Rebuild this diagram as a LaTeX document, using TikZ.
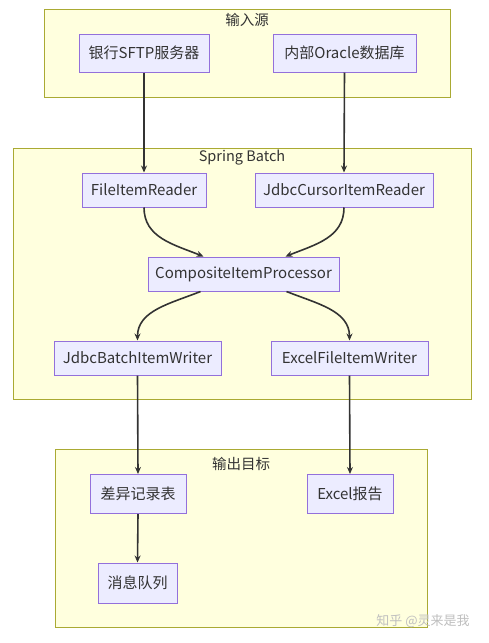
\documentclass[tikz,border=0pt]{standalone}
\usepackage{fontspec}
\setmainfont{Noto Sans CJK SC}
\usetikzlibrary{arrows.meta}
\definecolor{grpfill}{HTML}{FFFFDE}
\definecolor{grpdraw}{HTML}{AAAA33}
\definecolor{nodefill}{HTML}{ECECFF}
\definecolor{nodedraw}{HTML}{9370DB}
\definecolor{txt}{HTML}{333333}
\begin{document}
\begin{tikzpicture}[x=1pt,y=-1pt,
  grp/.style={draw=grpdraw,fill=grpfill,line width=1pt},
  box/.style={draw=nodedraw,fill=nodefill,line width=1pt,text=txt,font=\fontsize{15}{17}\selectfont,inner sep=0pt,anchor=center},
  gtitle/.style={text=txt,font=\fontsize{14.5}{16}\selectfont},
  arr/.style={draw=txt,line width=1.6pt,-{Stealth[length=7pt,width=6pt]}}]
\useasboundingbox (0,0) rectangle (488,643);
\fill[white] (0,0) rectangle (488,643);
% groups
\draw[grp] (44,9) rectangle (450,97);
\node[gtitle] (g1) at (247,20) {输入源};
\draw[grp] (13,148) rectangle (471,399);
\node[gtitle] (g2) at (242,158) {Spring Batch};
\draw[grp] (55,449) rectangle (427,627);
\node[gtitle] (g3) at (241,464) {输出目标};
% nodes
\node[box,minimum width=130pt,minimum height=38pt] (sftp) at (144,53) {银行SFTP服务器};
\node[box,minimum width=143pt,minimum height=38pt] (ora) at (344.5,53) {内部Oracle数据库};
\node[box,minimum width=124pt,minimum height=34pt] (fir) at (144,190) {FileItemReader};
\node[box,minimum width=178pt,minimum height=34pt] (jcr) at (344,190) {JdbcCursorItemReader};
\node[box,minimum width=191pt,minimum height=34pt] (cip) at (243.5,274) {CompositeItemProcessor};
\node[box,minimum width=167pt,minimum height=34pt] (jbw) at (137.5,358) {JdbcBatchItemWriter};
\node[box,minimum width=157pt,minimum height=34pt] (efw) at (349.5,358) {ExcelFileItemWriter};
\node[box,minimum width=96pt,minimum height=39pt] (diff) at (138,494) {差异记录表};
\node[box,minimum width=86pt,minimum height=39pt] (xls) at (350,494) {Excel报告};
\node[box,minimum width=79pt,minimum height=40pt] (mq) at (137.5,583) {消息队列};
% edges
\draw[arr] (sftp.south) -- (fir.north);
\draw[arr] (ora.south) -- (jcr.north);
\draw[arr] (fir.south) .. controls +(0,30) and +(-30,-12) .. ([xshift=-40pt]cip.north);
\draw[arr] (jcr.south) .. controls +(0,30) and +(30,-12) .. ([xshift=42pt]cip.north);
\draw[arr] ([xshift=-43pt]cip.south) .. controls +(-30,12) and +(0,-30) .. (jbw.north);
\draw[arr] ([xshift=43pt]cip.south) .. controls +(30,12) and +(0,-30) .. (efw.north);
\draw[arr] (jbw.south) -- (diff.north);
\draw[arr] (efw.south) -- (xls.north);
\draw[arr] (diff.south) -- (mq.north);
% watermark
\node[text=black!25,font=\fontsize{13}{15}\selectfont] (wm) at (423,621) {知乎 @灵来是我};
\end{tikzpicture}
\end{document}
